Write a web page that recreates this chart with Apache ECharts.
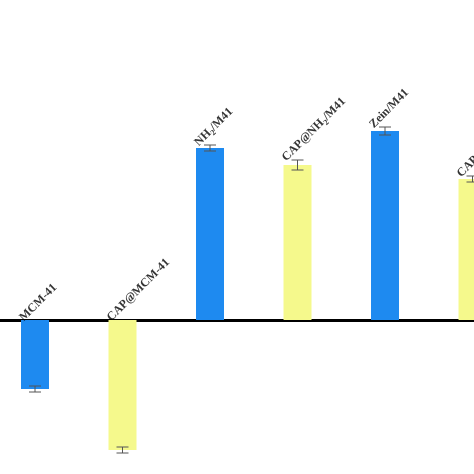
<!DOCTYPE html>
<html>
<head>
<meta charset="utf-8">
<script src="https://cdn.jsdelivr.net/npm/echarts@6/dist/echarts.min.js"></script>
<style>html,body{margin:0;padding:0;background:#fff}#c{width:474px;height:474px}</style>
</head>
<body>
<div id="c"></div>
<script>
// sample names and measured values (with error)
var categories = ['MCM-41', 'CAP@MCM-41', 'NH{s|2}/M41', 'CAP@NH{s|2}/M41', 'Zein/M41', 'CAP@Zein/M41'];
var values = [-69, -130, 172, 155, 189, 141];
var errors = [3, 3, 3, 5, 4, 3];
var colors = ['#1E8AF0', '#F5F98C', '#1E8AF0', '#F5F98C', '#1E8AF0', '#F5F98C'];

var myChart = echarts.init(document.getElementById('c'));

var barData = values.map(function (v, i) {
  return { value: [i, v], itemStyle: { color: colors[i] } };
});
var errData = values.map(function (v, i) { return [i, v - errors[i], v + errors[i]]; });
var labelData = values.map(function (v, i) {
  return { value: [i, Math.max(v, 0) + (v > 0 ? errors[i] : 0)], name: categories[i] };
});

myChart.setOption({
  animation: false,
  grid: { left: 0, top: 0, width: 474, height: 474 },
  xAxis: {
    type: 'value', min: -0.4, max: 5.017, splitLine: { show: false },
    axisLine: { onZero: true, lineStyle: { color: '#000', width: 3 } },
    axisTick: { show: false }, axisLabel: { show: false }
  },
  yAxis: { type: 'value', min: -154, max: 320, show: false, splitLine: { show: false } },
  series: [
    { type: 'bar', data: barData, barWidth: 28, z: 1 },
    {
      type: 'custom', data: errData, z: 3,
      renderItem: function (params, api) {
        var lo = api.coord([api.value(0), api.value(1)]);
        var hi = api.coord([api.value(0), api.value(2)]);
        var w = 6;
        var st = { stroke: '#555', lineWidth: 1 };
        return { type: 'group', children: [
          { type: 'line', shape: { x1: lo[0], y1: lo[1], x2: hi[0], y2: hi[1] }, style: st },
          { type: 'line', shape: { x1: lo[0] - w, y1: lo[1], x2: lo[0] + w, y2: lo[1] }, style: st },
          { type: 'line', shape: { x1: hi[0] - w, y1: hi[1], x2: hi[0] + w, y2: hi[1] }, style: st }
        ]};
      }
    },
    {
      type: 'scatter', data: labelData, symbolSize: 0, z: 4,
      label: {
        show: true, position: 'inside', rotate: 45, align: 'left', verticalAlign: 'bottom',
        offset: [-9, -4],
        formatter: function (p) { return p.name; },
        fontFamily: 'Liberation Serif', fontWeight: 'bold', fontSize: 12, color: '#000',
        rich: { s: { fontFamily: 'Liberation Serif', fontWeight: 'bold', fontSize: 8, verticalAlign: 'bottom', padding: [0, 0, -2, 0] } }
      }
    }
  ]
});
</script>
</body>
</html>
